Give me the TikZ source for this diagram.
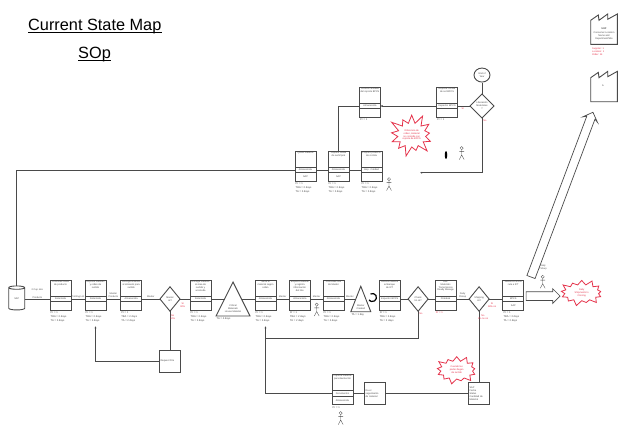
\documentclass[tikz,border=0pt]{standalone}
\usepackage{fontspec}
\setmainfont{Liberation Sans}
\usetikzlibrary{arrows.meta, positioning, shapes.geometric, shapes.symbols, shapes.arrows}
\definecolor{grislinea}{HTML}{4A4A4A}
\definecolor{rojoalerta}{HTML}{E5334B}
\colorlet{colGris}{grislinea}
\colorlet{colAlerta}{rojoalerta}
\newcommand{\letraMin}{\fontsize{2.4}{2.9}\selectfont}
\tikzset{
  cajaParte/.style={
    draw=colGris, line width=0.9pt, outer sep=0pt, inner sep=0.5pt,
    minimum width=21pt, text width=20pt,
    align=center, font=\letraMin, text=colGris, fill=white
  },
  cajaTitulo/.style={cajaParte, text width=, minimum height=16pt},
  cajaMedio/.style={cajaParte, inner ysep=0pt, minimum height=5.8pt},
  cajaPie/.style={cajaParte, inner ysep=0pt, minimum height=8.4pt},
  cajaNota/.style={draw=colGris, line width=0.9pt, outer sep=0pt, inner sep=1pt,
    minimum width=21pt, minimum height=22pt, text width=19pt,
    align=left, font=\letraMin, text=colGris, fill=white},
  rombo/.style={diamond, draw=colGris, line width=0.9pt, outer sep=0pt, inner sep=0pt,
    minimum width=20pt, minimum height=24.5pt, aspect=0.8,
    align=center, font=\letraMin, text=colGris, fill=white},
  triangulo/.style={isosceles triangle, isosceles triangle stretches, shape border rotate=90,
    draw=colGris, line width=0.9pt, outer sep=0pt, inner sep=0pt,
    align=center, font=\letraMin, text=colGris, fill=white},
  estallido/.style={starburst, draw=colAlerta, line width=0.8pt, fill=white, inner sep=0pt,
    align=center, font=\letraMin, text=colAlerta},
  flecha/.style={-{Latex[length=2pt,width=2pt]}, line width=0.9pt, colGris},
  linea/.style={line width=0.9pt, colGris},
  flechaBlanca/.style={single arrow, draw=colGris, line width=0.7pt, fill=white, outer sep=0pt,
    inner xsep=0pt, inner ysep=4pt},
  etiquetaFlecha/.style={font=\letraMin, text=colGris, inner sep=0.8pt, align=center},
  etiquetaRoja/.style={font=\letraMin, text=colAlerta, inner sep=0pt, align=center},
  datosCaja/.style={font=\fontsize{2.6}{4.1}\selectfont, text=colGris, inner sep=0.5pt, yshift=-0.8pt, align=left},
  monigote/.pic={
    \draw[colGris, line width=0.35pt] (0,-4.9) circle (1.6);
    \draw[colGris, line width=0.35pt] (0,-3.3) -- (0,2) (-2.4,-1.6) -- (2.4,-1.6)
      (-2.4,6.5) -- (0,2) -- (2.4,6.5);
  },
  fabrica/.pic={
    \draw[colGris, line width=0.9pt, fill=white] (0,0) -- (0,-24) -- (7.6,-29.3) -- (8.3,-24)
      -- (17,-30.3) -- (17,-25) -- (26.6,-30.3) -- (26.6,0) -- cycle;
  },
}
\newcommand{\cajaProceso}[6][]{%
  \node[cajaMedio, #1] (#2-m) {#4};
  \node[cajaTitulo, above=0pt of #2-m] (#2-t) {\parbox[t][15pt][t]{20pt}{\centering #3}};
  \node[cajaPie, below=0pt of #2-m] (#2-b) {#5};
  \node[datosCaja, anchor=north west] (#2-d) at (#2-b.south west) {#6};
}
\newcommand{\datosTres}{Pr = 1\\TBA = 2 days\\TA = 2 days}
\begin{document}
\begin{tikzpicture}[x=1pt, y=-1pt]
  \useasboundingbox (0,0) rectangle (638,442);

  \node[font=\fontsize{16.3}{18}\selectfont, text=black, inner sep=0pt, anchor=base west] (titulo) at (28,30) {Current State Map};
  \node[font=\fontsize{16.3}{18}\selectfont, text=black, inner sep=0pt, anchor=base west] (subtitulo) at (78,58) {SOp};
  \draw[line width=0.9pt] ([yshift=-2pt]titulo.base west) -- ([yshift=-2pt]titulo.base east);
  \draw[line width=0.9pt] ([yshift=-2pt]subtitulo.base west) -- ([yshift=-2pt]subtitulo.base east);

  % fila principal
  \node[cylinder, shape border rotate=90, aspect=0.7, draw=colGris, line width=0.9pt,
    minimum width=16pt, minimum height=24pt, outer sep=0pt, inner sep=0pt, font=\letraMin,
    text=colGris, fill=white] (db) at (16.7,299) {SAP};
  \cajaProceso[right=25.3pt of db.east]{a}{Consolida orden\\de producto}{Sistemista}{}{\datosTres}
  \cajaProceso[right=14pt of a-m]{b}{Imprime órdenes\\y orden de\\surtido}{Sistemista}{}{\datosTres}
  \cajaProceso[right=14.7pt of b-m]{c}{Entrega órdenes\\al almacén para\\surtido}{Almacenista}{}{\datosTres}
  \node[rombo, right=18.3pt of c-m] (d1) {Master\\ok?};
  \cajaProceso[right=10pt of d1]{e}{Entrega material\\al área de\\surtido y\\acomoda}{Sistemista}{}{\datosTres}
  \node[triangulo, minimum width=34pt, minimum height=34pt, right=13.5pt of e-m, anchor=left side] (tri1) {Critical\\Materials\\House Material};
  \node[datosCaja, anchor=north west] (tri1-d) at (tri1.left corner) {TA = 4 days};
  \cajaProceso[right=13.5pt of tri1.right side]{f}{Surte el\\material según\\orden}{Almacenista}{}{\datosTres}
  \cajaProceso[right=13.3pt of f-m]{g}{Empaca material\\y registra\\información\\del lote}{Almacenista}{}{\datosTres}
  \cajaProceso[right=12.7pt of g-m]{h}{Consolida lote\\de Master}{Almacenista}{}{\datosTres}
  \node[triangulo, minimum width=20pt, minimum height=25.5pt, right=11.8pt of h-m, anchor=left side] (tri2) {Master\\Created};
  \node[datosCaja, anchor=north west] (tri2-d) at (tri2.left corner) {TA = 1 day};
  \cajaProceso[right=13.3pt of tri2.right side]{i}{Verifica material\\embarque\\de ICT}{Inspector BPCS}{}{\datosTres}
  \node[rombo, right=8pt of i-m] (d2) {Check\\lot ok?};
  \cajaProceso[right=7pt of d2]{j}{SAP\\Materials\\Transmission\\Ready Manage}{Pickdesk}{}{\textcolor{colAlerta}{Pr = 1}}
  \node[rombo, right=13pt of j-m] (d3) {Shipping\\ok?};
  \cajaProceso[right=13.7pt of d3]{k}{Genera el envío\\ruta a ICT}{BPCS}{SAP}{\datosTres}

  % flechas de salida
  \node[flechaBlanca, minimum height=34pt, minimum width=14pt, single arrow head extend=3pt,
    single arrow head indent=0pt, right=2.3pt of k-t.south east, anchor=tail] (salida) {};
  \node[flechaBlanca, minimum height=176pt, minimum width=15pt, single arrow head extend=3.5pt,
    single arrow head indent=2pt, rotate=69.4, anchor=tail] (envio) at (531,277) {};
  \node[estallido, minimum width=46pt, minimum height=28pt, starburst points=13,
    starburst point height=6pt] (avisoSalida) at (581.7,292.7) {Daily\\Shipments to\\Closing};
  \node[etiquetaFlecha] (pickup) at (543,267) {Daily\\Pickup};
  \pic at (542.7,281.7) {monigote};
  \pic at (316.7,309.5) {monigote};

  % fila superior
  \cajaProceso[at={(305.5,170)}]{p}{Quitar material}{Almacenista}{SAP}{\datosTres}
  \cajaProceso[right=12pt of p-m]{n}{Captura salida\\de surtir/pick}{Almacenista}{SAP}{\datosTres}
  \cajaProceso[right=12pt of n-m]{o}{Prepara producto\\de corrida}{Insp. Calidad}{}{\datosTres}
  \node[rombo, minimum width=24pt, minimum height=24pt, aspect=1] (dSup) at (482,106) {Liberación\\Materiales\\?};
  \cajaProceso[left=12.5pt of dSup]{r}{Reporta corrida\\de set BPCS}{Inspector BPCS}{}{Pr = 1}
  \cajaProceso[left=56pt of r-m]{u}{Verifica cantidad\\del reporte BPCS}{Almacenista}{}{Pr = 1}
  \node[ellipse, draw=colGris, line width=0.9pt, minimum width=16pt, minimum height=14pt, inner sep=0pt,
    align=center, font=\letraMin, text=colGris, above=11.5pt of dSup] (fin) {End of\\Year};
  \node[estallido, minimum width=50pt, minimum height=46pt, starburst points=13,
    starburst point height=11pt] (avisoSup) at (411.7,135) {Diferencia de\\orden, material\\no coincide con\\reporte de BPCS};
  \pic at (461.7,153) {monigote};
  \pic at (389,184) {monigote};
  \node[ellipse, fill=black, minimum width=2.5pt, minimum height=8pt, inner sep=0pt] (marca) at (446,155) {};
  \coordinate[left=62pt of dSup.south |- o-m, yshift=-2.7pt] (finSup);

  % fila inferior
  \node[cajaNota, below=39pt of d1] (req) {Request File};
  \coordinate[below=16pt of b-b] (finB);
  \coordinate[below=16pt of f-b] (finF);
  \coordinate[below=12pt of finF] (unionF);
  \node[cajaNota, minimum height=22.4pt, below=71pt of d3, font=\fontsize{2.4}{2.9}\selectfont] (w) {SAP\\Fecha\\Status\\Cantidad de\\Material};
  \node[cajaNota, left=83pt of w] (s) {Da el seguimiento\\de material};
  \cajaProceso[left=11.6pt of s]{q}{Captura material\\para devolución}{Documentos}{Almacenista}{Pr = 1}
  \pic at (340.7,418) {monigote};
  \node[estallido, minimum width=44pt, minimum height=30pt, starburst points=13,
    starburst point height=6pt] (avisoInf) at (456.7,370) {Cuando las\\partes llegan\\de surtido};

  % giro
  \draw[-{Latex[length=1.5pt,width=2.4pt]}, line width=1.2pt, black] (370.5,294) arc (-120:150:4);

  % conectores
  \draw[linea] (db.east) -- node[above, etiquetaFlecha, yshift=-0.3pt]{2 Cup size\\[4.5pt]Producto} (a-m);
  \draw[linea] (db.north) |- (p-m.west);
  \draw[linea] (a-m) -- node[above, etiquetaFlecha]{Printing List} (b-m);
  \draw[linea] (b-m) -- node[above, etiquetaFlecha]{Master\\Producto} (c-m);
  \draw[linea] (c-m) -- node[above, etiquetaFlecha]{Master} (d1);
  \draw[linea] (d1) -- (e-m);
  \draw[linea] (e-m) -- (tri1.left side);
  \draw[linea] (tri1.right side) -- (f-m);
  \draw[linea] (f-m) -- node[above, etiquetaFlecha]{Master} (g-m);
  \draw[linea] (g-m) -- node[above, etiquetaFlecha]{Master} (h-m);
  \draw[linea] (h-m) -- node[above, etiquetaFlecha]{Master} (tri2.left side);
  \draw[linea] (i-m) -- (d2);
  \draw[linea] (d2) -- (j-m);
  \draw[linea] (j-m) -- node[above, etiquetaFlecha]{Daily\\Pickup} (d3);
  \draw[linea] (d3) -- (k-m);
  \draw[linea] (d1.south) -- (req.north);
  \draw[flecha] (req.west) -| (finB);
  \draw[flecha] (q-m.west) -| (finF);
  \draw[linea] (d2.south) |- (unionF);
  \draw[linea] (q-m) -- (s);
  \draw[linea] (s) -- (w);
  \draw[linea] (d3.south) -- (w.north);
  \draw[linea] (o-m) -- (n-m);
  \draw[linea] (n-m) -- (p-m);
  \draw[linea] (u-m.west) -| (n-t.north);
  \draw[flecha] (r-m) -- (u-m);
  \draw[linea] (dSup) -- (r-m);
  \draw[linea] (fin) -- (dSup);
  \draw[flecha] (dSup.south) |- (finSup);

  % notas rojas de los rombos
  \node[etiquetaRoja] (d1a) at (182.7,305) {Sí\\90\%};
  \node[etiquetaRoja] (d1b) at (172.7,317) {No\\10\%};
  \node[etiquetaRoja] (d2b) at (421,314) {No};
  \node[etiquetaRoja] (d3a) at (492,305) {Sí\\98\% ok};
  \node[etiquetaRoja] (d3b) at (483,317) {No\\2\% no ok};
  \node[etiquetaRoja] (dSupA) at (462.7,109) {Sí};
  \node[etiquetaRoja] (dSupB) at (485,121) {No};

  % fabricas
  \pic at (590.7,44.3) {fabrica};
  \pic at (590.7,101.7) {fabrica};
  \node[font=\fontsize{2.4}{3.1}\selectfont, text=colGris, align=center, inner sep=0pt] (cliente) at (604,34) {\textbf{SOP}\\Consumer Location\\Name and\\Department/Site};
  \node[etiquetaRoja, anchor=north west, align=left] (clienteDatos) at (592,47.5) {Supplier: 1\\Location: 1\\Order: 14};
  \node[font=\letraMin, text=colGris, inner sep=0pt] (planta) at (603,86) {A};
\end{tikzpicture}
\end{document}
